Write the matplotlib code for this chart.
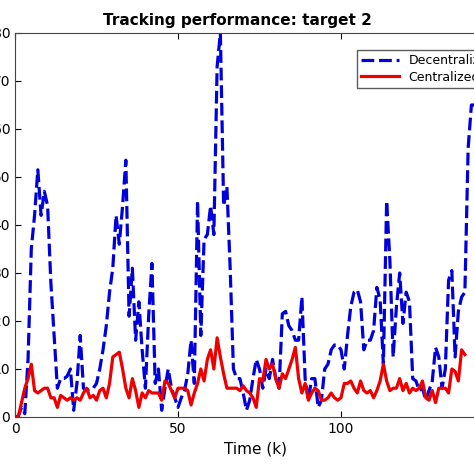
import matplotlib
matplotlib.use("Agg")
import matplotlib.pyplot as plt
import numpy as np

decentralized = [0,0.2,2,0.7,12,35,42,51.5,42,47,44,28,17,6,8,8,8.5,10,1.4,7,17,6,5.5,6,6,7,10,14,19,26,31,42,36,44,53.5,21,31,16,24,14,6,21,32,7,10,1.4,6,10,6,4,2,4,5.5,9,16,7,45,17,37,38,44,38,73,80,44,48,31,10,8,
                 8,5,1.4,3.5,8,12,10,6,10,8,12,8,6,21.5,22,19,18,16,16,25,8,3.5,8,8,2,3.5,10,11,14,15,15,14,10,17,23,26,26.5,24,14,16,16,18,27,24.5,11,45,32.5,12.5,23,30,19.5,26,24,8,7.5,5.5,6,3.5,5.5,7.5,14.5,12.5,6,10,28.5,30.5,12.5,22,25,26,56,65,65]
centralized = [0,0,3,6,8,11,5.5,5,5.5,6,6,4,4,2,4.5,4,3.5,4,3.5,4,3.5,5,6,4,4.5,3.5,5.5,6,4,7,12.5,13,13.5,10,6,4,8,5.5,2,5,4,5.5,5,5,5,3.5,7.5,7,5.5,4,6,6,6,5.5,2.5,5,7,10,7.5,12,14,10,16.5,12.5,9,6,6,
               6,6,5.5,6.5,5.5,5,4,2,8,7.5,12,10,11,8,6,9,8,10,12,14.5,8,5,7,3.5,5,6,5.5,3.5,3.5,4,5,4,3.5,4,7,7,7.5,6,5,7.5,5.5,5,5.5,4,5.5,7.5,11,7.5,5.5,6,6,8,5.5,7,5,6,5.5,6,7.5,4,3.5,5.5,3,6,6,6,5,10,9.5,7.5,14,13]
k_dec = np.arange(len(decentralized))
k_cen = np.arange(len(centralized))
yticks = [0,10,20,30,40,50,60,70,80]
xticks = [0,50,100]

fig = plt.figure(figsize=(4.74,4.74), dpi=100)
ax = fig.add_axes([15/474, 57/474, 459/474, 384/474])
ax.plot(k_dec, decentralized, '--', color='#0000dd', lw=2.3, dashes=(4,1.5), label='Decentralized')
ax.plot(k_cen, centralized, '-', color='#ee0000', lw=2.3, label='Centralized')
ax.set_xlim(0, 459/3.26)
ax.set_ylim(0, 80)
ax.set_xticks(xticks)
ax.set_yticks(yticks)
ax.tick_params(labelsize=10, direction='in', length=4, top=True)
ax.spines['right'].set_visible(False)
for s in ax.spines.values():
    s.set_color('#444444')
ax.set_xlabel('Time (k)', fontsize=11)
ax.set_title('Tracking performance: target 2', fontsize=11, fontweight='bold')
ax.title.set_position(((237-15)/459, 1.0))
ax.xaxis.label.set_position(((255-15)/459, 0))
leg = ax.legend(loc='upper left', bbox_to_anchor=(351/474, 1-44/474), bbox_transform=fig.transFigure,
                fontsize=9, frameon=True, fancybox=False, edgecolor='#333333', handlelength=3, borderpad=0.3, labelspacing=0.3)
fig.savefig('out.png', dpi=100)
